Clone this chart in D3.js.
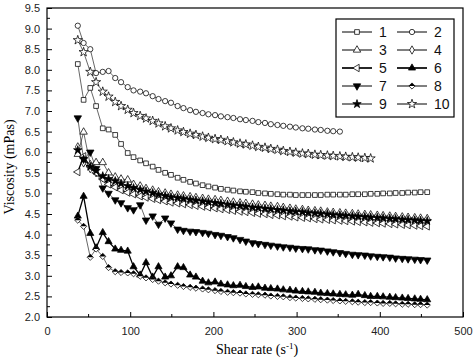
<!DOCTYPE html>
<html><head><meta charset="utf-8">
<script src="https://cdn.jsdelivr.net/npm/d3@7"></script>
<style>body{margin:0;background:#fff}svg{display:block}</style>
</head><body>
<svg id="c" width="474" height="360"></svg>
<script>
const shear = [37,44,52,59,67,74,82,89,97,104,112,119,127,134,142,149,157,164,172,179,187,194,202,209,217,224,232,239,247,254,262,269,277,284,292,299,307,314,322,329,337,344,352,359,367,374,382,389,397,404,412,419,427,434,442,449,457];
const s1 = [8.14,7.27,7.56,7.12,6.58,6.55,6.42,6.2,5.98,5.88,5.8,5.73,5.65,5.57,5.5,5.45,5.38,5.33,5.28,5.24,5.2,5.17,5.14,5.11,5.09,5.07,5.05,5.04,5.03,5.01,5.0,4.99,4.98,4.97,4.97,4.96,4.96,4.96,4.96,4.96,4.97,4.97,4.97,4.97,4.98,4.98,4.98,4.99,4.99,5.0,5.0,5.01,5.01,5.02,5.02,5.03,5.03];
const s2 = [9.07,8.65,8.5,7.92,7.95,7.97,7.8,7.7,7.58,7.5,7.47,7.43,7.36,7.29,7.24,7.2,7.12,7.07,7.02,6.98,6.95,6.92,6.9,6.87,6.85,6.83,6.8,6.78,6.76,6.73,6.71,6.68,6.66,6.64,6.62,6.6,6.58,6.57,6.55,6.54,6.52,6.51,6.5];
const s3 = [5.95,6.49,5.7,5.75,5.75,5.5,5.4,5.35,5.33,5.22,5.18,5.12,5.08,5.04,5.01,4.98,4.96,4.94,4.92,4.9,4.88,4.86,4.85,4.83,4.81,4.79,4.77,4.76,4.74,4.72,4.71,4.69,4.68,4.66,4.64,4.62,4.61,4.59,4.58,4.57,4.55,4.54,4.53,4.52,4.51,4.5,4.49,4.48,4.47,4.46,4.45,4.44,4.43,4.42,4.41,4.4,4.39];
const s4 = [6.13,5.74,5.6,5.5,5.38,5.3,5.22,5.17,5.12,5.07,5.02,4.98,4.95,4.92,4.89,4.86,4.84,4.82,4.8,4.78,4.76,4.74,4.72,4.7,4.68,4.66,4.64,4.63,4.61,4.59,4.58,4.56,4.55,4.53,4.52,4.5,4.49,4.48,4.46,4.45,4.44,4.43,4.42,4.41,4.4,4.39,4.38,4.37,4.36,4.35,4.34,4.33,4.32,4.31,4.3,4.29,4.28];
const s5 = [5.52,5.9,5.65,5.5,5.35,5.22,5.15,5.08,5.02,4.98,4.93,4.9,4.87,4.84,4.81,4.78,4.76,4.74,4.72,4.7,4.68,4.66,4.64,4.62,4.6,4.58,4.56,4.55,4.53,4.51,4.5,4.48,4.47,4.45,4.44,4.42,4.41,4.4,4.38,4.37,4.36,4.35,4.34,4.33,4.32,4.31,4.3,4.29,4.28,4.27,4.26,4.25,4.24,4.23,4.22,4.21,4.2];
const s6 = [4.45,4.93,4.03,3.68,4.05,3.83,3.65,3.62,3.6,3.22,3.02,3.32,2.97,3.22,2.97,3.0,3.22,3.2,3.02,2.97,2.87,2.83,2.85,2.8,2.78,2.76,2.77,2.74,2.72,2.73,2.7,2.69,2.68,2.66,2.65,2.63,2.62,2.61,2.6,2.58,2.57,2.56,2.55,2.54,2.53,2.55,2.52,2.5,2.5,2.49,2.48,2.47,2.46,2.45,2.44,2.43,2.42];
const s7 = [6.83,5.83,6.0,5.6,5.13,5.0,4.84,4.77,4.65,4.6,4.72,4.35,4.45,4.25,4.4,4.28,4.13,4.1,4.08,4.07,4.05,4.03,4.0,3.98,3.95,3.92,3.88,3.84,3.8,3.78,3.76,3.74,3.72,3.7,3.69,3.67,3.66,3.65,3.63,3.62,3.6,3.58,3.56,3.54,3.52,3.51,3.5,3.48,3.47,3.46,3.45,3.43,3.42,3.41,3.4,3.39,3.38];
const s8 = [4.35,4.2,3.45,3.65,3.47,3.2,3.1,3.08,3.07,3.05,2.99,2.95,2.91,2.87,2.83,2.8,2.77,2.74,2.72,2.7,2.68,2.66,2.64,2.62,2.6,2.59,2.58,2.56,2.55,2.54,2.53,2.51,2.5,2.49,2.47,2.46,2.45,2.44,2.43,2.42,2.41,2.4,2.39,2.38,2.37,2.36,2.35,2.35,2.34,2.33,2.33,2.32,2.31,2.31,2.3,2.3,2.29];
const s9 = [6.05,5.83,5.65,5.55,5.42,5.35,5.3,5.24,5.18,5.13,5.09,5.05,5.01,4.97,4.94,4.91,4.89,4.87,4.85,4.83,4.81,4.79,4.77,4.75,4.73,4.71,4.7,4.68,4.66,4.65,4.63,4.62,4.6,4.59,4.57,4.56,4.55,4.53,4.52,4.51,4.5,4.48,4.47,4.46,4.45,4.44,4.43,4.42,4.41,4.4,4.39,4.38,4.37,4.36,4.35,4.34,4.33];
const s10 = [8.72,8.43,7.95,7.7,7.47,7.35,7.22,7.12,7.03,6.95,6.88,6.82,6.76,6.7,6.63,6.58,6.53,6.49,6.45,6.42,6.38,6.35,6.32,6.3,6.27,6.24,6.21,6.19,6.16,6.13,6.11,6.08,6.06,6.03,6.01,5.99,5.97,5.96,5.94,5.93,5.92,5.91,5.9,5.89,5.88,5.87,5.86,5.85];
const seriesNames = ["1","2","3","4","5","6","7","8","9","10"];
const seriesValues = [s1,s2,s3,s4,s5,s6,s7,s8,s9,s10];
const xTicks = [0,100,200,300,400,500];
const yTicks = [2.0,2.5,3.0,3.5,4.0,4.5,5.0,5.5,6.0,6.5,7.0,7.5,8.0,8.5,9.0,9.5];

const svg = d3.select("#c");
const M = {l:47, r:11, t:8, b:43};
const W = 474, H = 360;
const x = d3.scaleLinear().domain([0,500]).range([M.l, W-M.r]);
const y = d3.scaleLinear().domain([2,9.5]).range([H-M.b, M.t]);

const sym = (type,size)=>d3.symbol().type(type).size(size)();
const halfDiamond = (r)=>`M0,${-r}L${r},0L0,${r}L${-r},0Z`;
const halfDiamondTop = (r)=>`M0,${-r}L${r},0L${-r},0Z`;
const markers = [
  {d: sym(d3.symbolSquare,22), fill:"#fff"},
  {d: sym(d3.symbolCircle,22), fill:"#fff"},
  {d: sym(d3.symbolTriangle,24), fill:"#fff"},
  {d: sym(d3.symbolDiamond,20), fill:"#fff"},
  {d: sym(d3.symbolTriangle,24), fill:"#fff", rot:-90},
  {d: sym(d3.symbolTriangle,22), fill:"#000"},
  {d: sym(d3.symbolTriangle,24), fill:"#000", rot:180},
  {d: halfDiamond(3.1), fill:"#fff", top: halfDiamondTop(3.1)},
  {d: sym(d3.symbolStar,22), fill:"#000"},
  {d: sym(d3.symbolStar,26), fill:"#fff"}
];
const lineW = [0.6,0.6,0.6,0.6,1.3,1.3,0.6,0.6,0.6,0.6];

function drawMarker(g, m, px, py){
  const t = `translate(${px},${py})` + (m.rot ? ` rotate(${m.rot})` : "");
  g.append("path").attr("d", m.d).attr("transform", t)
    .attr("fill", m.fill).attr("stroke","#000").attr("stroke-width",0.75);
  if (m.top) g.append("path").attr("d", m.top).attr("transform", t).attr("fill","#000");
}

svg.append("defs").append("clipPath").attr("id","pc").append("rect")
  .attr("x",M.l).attr("y",M.t).attr("width",W-M.l-M.r).attr("height",H-M.t-M.b);

const plot = svg.append("g").attr("clip-path","url(#pc)");
const line = d3.line().x(d=>x(d[0])).y(d=>y(d[1]));
seriesValues.forEach((vals,i)=>{
  const pts = vals.map((v,j)=>[shear[j], v]);
  plot.append("path").attr("d", line(pts)).attr("fill","none")
    .attr("stroke","#000").attr("stroke-width", lineW[i]);
});
seriesValues.forEach((vals,i)=>{
  const g = plot.append("g");
  vals.forEach((v,j)=> drawMarker(g, markers[i], x(shear[j]), y(v)));
});

svg.append("rect").attr("x",M.l).attr("y",M.t).attr("width",W-M.l-M.r).attr("height",H-M.t-M.b)
  .attr("fill","none").attr("stroke","#000").attr("stroke-width",1.2);

const xAxis = d3.axisBottom(x).tickValues(xTicks).tickSize(-5).tickPadding(10).tickFormat(d3.format("d"));
const gx = svg.append("g").attr("transform",`translate(0,${H-M.b})`).call(xAxis);
const yAxis = d3.axisLeft(y).tickValues(yTicks).tickSize(-5).tickPadding(7).tickFormat(d3.format(".1f"));
const gy = svg.append("g").attr("transform",`translate(${M.l},0)`).call(yAxis);
[gx,gy].forEach(g=>{
  g.select(".domain").remove();
  g.selectAll("text").attr("font-family","Liberation Sans, Arial, sans-serif").attr("font-size",11).attr("fill","#222");
  g.selectAll("line").attr("stroke","#000");
});
const xMinor = [50,150,250,350,450];
svg.append("g").selectAll("line").data(xMinor).join("line")
  .attr("x1",d=>x(d)).attr("x2",d=>x(d)).attr("y1",H-M.b).attr("y2",H-M.b-3).attr("stroke","#000");
const yMinor = yTicks.slice(0,-1).map(d=>d+0.25);
svg.append("g").selectAll("line").data(yMinor).join("line")
  .attr("x1",M.l).attr("x2",M.l+3).attr("y1",d=>y(d)).attr("y2",d=>y(d)).attr("stroke","#000");

const xt = svg.append("text").attr("x",257).attr("y",354).attr("text-anchor","middle")
  .attr("font-family","Liberation Serif, Times New Roman, serif").attr("font-size",14);
xt.append("tspan").text("Shear rate (s");
xt.append("tspan").attr("dy",-5).attr("font-size",9).text("-1");
xt.append("tspan").attr("dy",5).text(")");
svg.append("text").attr("transform","translate(14,167) rotate(-90)").attr("text-anchor","middle")
  .attr("font-family","Liberation Serif, Times New Roman, serif").attr("font-size",14)
  .text("Viscosity (mPas)");

const lg = svg.append("g");
lg.append("rect").attr("x",336).attr("y",19).attr("width",118).attr("height",98)
  .attr("fill","#fff").attr("stroke","#000").attr("stroke-width",1.2);
seriesNames.forEach((nm,i)=>{
  const col = i%2, row = Math.floor(i/2);
  const lx = col ? 397 : 342, ly = 32 + row*18;
  lg.append("line").attr("x1",lx).attr("x2",lx+30).attr("y1",ly).attr("y2",ly)
    .attr("stroke","#000").attr("stroke-width", lineW[i]+0.4);
  drawMarker(lg, markers[i], lx+15, ly);
  lg.append("text").attr("x",lx+37).attr("y",ly+5).text(nm)
    .attr("font-family","Liberation Sans, Arial, sans-serif").attr("font-size",14).attr("fill","#111");
});
</script>
</body></html>
